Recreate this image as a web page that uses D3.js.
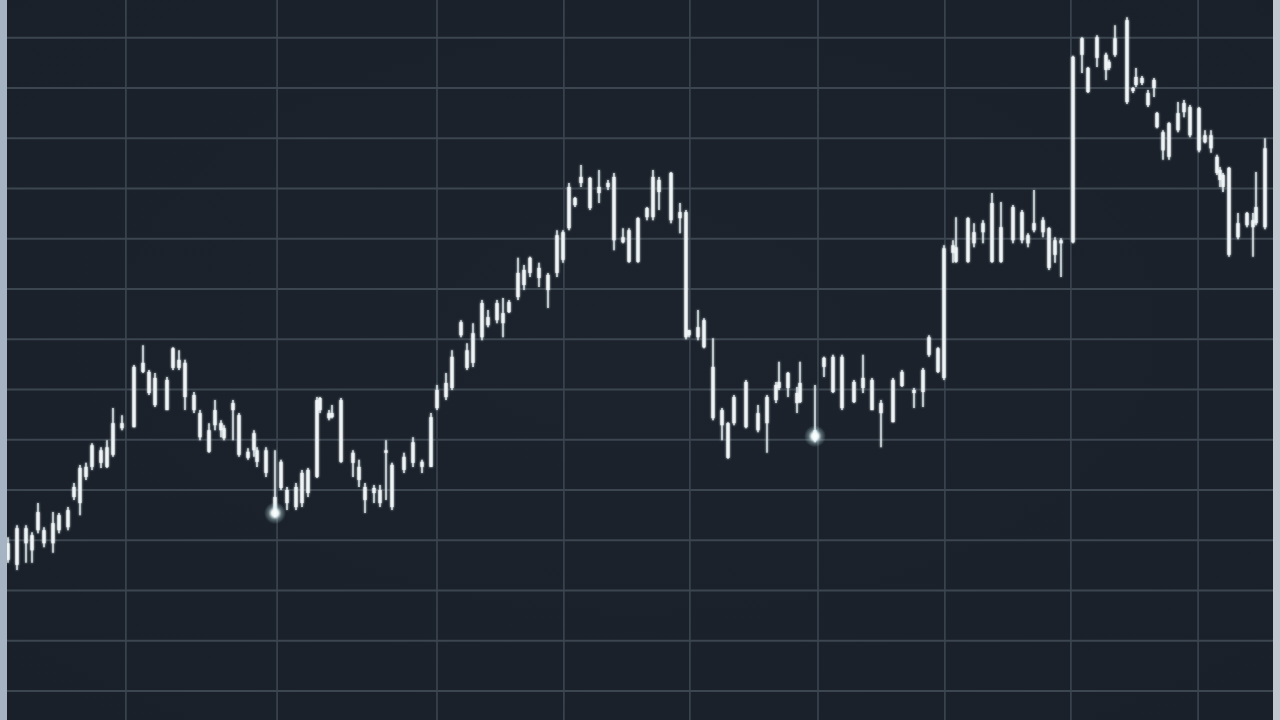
<!DOCTYPE html>
<html>
<head>
<meta charset="utf-8">
<script src="https://cdn.jsdelivr.net/npm/d3@7"></script>
<style>
html,body{margin:0;padding:0;background:#1b222b;overflow:hidden;}
svg{display:block;}
</style>
</head>
<body>
<svg id="chart" width="1280" height="720"></svg>
<script>
// ---- data ----
const bar = [0,3,6,8,10,12,15,17,20,22,24,26,28,31,33,35,38,42,45,47,49,53,55,57,59,62,64,67,69,71,72,75,77,80,82,83,86,89,91,93,96,98,100,103,104,107,108,111,115,117,119,122,124,126,128,132,135,138,141,143,146,148,151,153,155,158,160,163,165,167,170,172,174,177,180,183,185,187,189,191,194,197,200,202,205,207,210,213,215,217,221,224,226,227,230,232,235,238,240,242,246,250,253,256,257,260,263,264,269,272,275,278,282,285,288,291,295,298,302,305,307,310,312,315,316,320,322,325,328,331,335,338,340,342,345,347,349,351,355,358,360,363,366,367,369,373,375,376,378,380,382,383,385,387,390,392,394,397,399,401,403,404,405,407,410,413,415,416,419];
const open = [36.1,35.1,42.4,38.0,42.0,42.0,39.4,42.0,42.6,48.6,47.4,54.6,54.6,57.9,54.6,57.0,63.3,62.5,73.5,73.5,72.3,65.9,74.3,75.9,75.3,68.9,65.3,61.9,62.9,63.3,62.3,65.9,64.9,57.6,57.9,57.9,57.9,48.6,50.4,50.0,46.6,47.4,49.4,52.6,68.3,65.3,64.5,67.9,55.4,54.6,50.6,50.4,47.4,57.4,55.0,54.0,55.4,55.6,54.6,66.3,68.5,70.3,80.8,77.8,75.3,80.4,84.4,83.8,85.2,85.4,88.4,93.8,93.2,94.2,92.8,93.2,101.3,102.1,108.1,111.1,112.1,109.1,110.3,112.3,99.3,101.7,95.4,104.3,104.3,111.7,103.7,105.3,105.3,80.8,82.4,83.8,74.5,65.9,63.3,63.3,71.5,61.9,63.3,67.9,70.3,70.3,69.3,67.5,61.9,74.5,76.5,66.3,71.5,70.3,71.9,65.3,63.5,70.7,69.9,69.5,76.9,78.2,72.3,98.7,98.3,95.4,101.3,101.3,95.4,102.3,99.7,105.3,99.1,103.1,101.3,102.1,96.8,99.1,99.3,136.6,134.0,136.0,136.6,134.0,136.6,143.5,129.4,130.6,132.0,129.0,130.0,125.0,121.2,116.3,121.6,125.2,126.2,117.6,120.6,120.6,116.3,113.7,112.7,114.1,100.3,102.7,103.7,103.1,102.3];
const close = [39.4,42.4,39.4,41.0,45.6,39.4,43.4,45.0,46.0,50.6,54.4,52.6,58.9,55.4,58.5,63.3,62.3,74.5,75.3,69.3,66.9,71.9,78.2,74.3,68.5,65.9,60.5,57.6,65.9,61.9,60.3,67.3,57.0,56.4,61.3,55.6,53.4,46.0,55.6,47.4,50.6,53.4,54.0,67.9,65.9,64.3,65.3,55.6,57.4,52.0,48.0,49.4,50.0,57.9,46.6,56.6,59.5,54.6,64.5,69.9,71.3,76.5,83.4,74.3,81.2,87.2,82.8,87.2,83.2,87.4,93.2,90.8,96.2,92.2,89.8,100.7,95.8,110.3,106.7,112.3,106.1,110.3,111.1,99.7,100.3,95.4,104.1,106.1,112.3,109.3,113.1,104.1,80.4,81.8,80.4,78.4,64.3,62.9,56.4,68.5,62.5,65.3,68.5,70.9,71.5,73.3,67.3,71.3,59.9,76.3,69.5,76.5,67.5,72.3,65.9,67.3,71.9,73.5,69.3,73.9,80.4,73.5,98.1,97.2,95.4,104.1,99.1,103.1,107.1,95.4,106.3,99.7,100.7,101.7,103.7,94.2,99.7,99.7,136.2,139.9,129.2,140.1,133.6,135.2,139.9,127.2,130.0,132.2,131.0,126.6,131.6,122.2,117.6,123.0,125.0,127.0,120.6,126.0,119.2,118.0,113.1,111.7,110.3,96.8,103.1,105.1,102.3,106.3,118.0];
const high = [40.6,43.0,43.0,41.6,47.4,42.6,45.6,45.4,46.6,51.4,55.0,55.4,59.3,58.5,59.9,66.3,64.9,74.9,78.8,73.9,73.3,72.5,78.4,77.8,75.9,69.5,65.9,63.3,67.9,63.9,62.9,67.9,65.3,58.3,61.9,58.5,58.5,57.9,56.0,50.6,51.4,54.0,54.4,68.5,68.5,65.9,66.9,68.3,57.9,56.0,51.4,51.0,51.0,59.9,55.4,57.4,60.5,56.0,65.3,70.9,73.3,77.8,83.8,79.2,83.2,87.8,85.8,87.8,88.2,87.8,96.2,94.8,96.4,95.2,93.2,101.7,101.7,111.1,108.3,114.7,112.3,113.7,111.7,113.1,102.1,102.1,104.3,106.3,113.7,112.3,113.3,107.1,105.7,81.8,85.8,84.2,80.2,66.3,63.5,68.9,71.9,66.9,68.9,71.5,75.5,73.5,70.5,75.5,70.9,76.5,76.9,76.9,71.9,76.9,72.3,67.9,72.3,73.9,70.3,74.3,80.8,78.4,98.7,99.7,104.3,104.3,103.1,103.7,109.1,107.3,106.7,105.7,101.1,109.7,104.3,102.3,100.3,100.1,136.4,140.1,134.2,140.5,137.0,135.6,142.5,144.1,130.2,134.0,132.4,129.6,132.0,125.2,121.6,123.2,127.2,127.6,126.6,126.2,121.6,121.6,116.7,114.3,113.1,114.3,105.1,105.3,105.1,113.3,120.0];
const low = [35.5,34.1,35.5,35.5,41.4,38.6,37.5,41.4,42.0,48.0,45.0,52.0,54.0,54.4,54.4,56.6,61.9,62.5,73.3,68.9,66.5,65.9,73.9,73.9,65.9,65.3,59.9,57.4,61.9,60.5,59.9,59.9,56.6,56.0,56.6,54.6,52.6,44.6,50.0,46.0,46.0,46.6,48.6,52.4,65.3,63.9,64.3,55.4,52.6,50.6,45.4,47.4,46.6,48.0,46.0,53.4,54.6,53.4,54.6,65.9,67.9,69.9,80.4,73.9,74.5,79.8,82.4,83.2,80.4,85.2,87.8,89.8,92.4,90.4,86.2,92.4,95.2,101.7,106.3,110.3,105.7,107.1,109.7,97.7,99.1,95.2,95.2,103.7,103.7,105.7,103.1,101.1,80.0,80.4,79.8,78.2,63.9,59.9,56.2,62.9,62.3,61.5,57.4,67.3,69.9,68.5,65.3,67.3,59.5,72.5,69.3,65.9,67.3,69.3,65.9,58.5,63.5,70.5,66.3,66.5,76.5,73.3,71.9,95.2,95.2,95.2,98.3,99.1,95.2,95.2,99.1,99.1,98.3,101.3,100.3,93.8,95.2,92.4,99.1,133.0,129.0,134.2,131.6,133.6,136.2,126.8,129.0,130.2,130.6,126.2,128.2,122.0,115.7,115.7,121.2,124.2,120.2,117.2,119.0,117.1,112.7,110.3,109.3,96.4,99.9,102.3,96.4,102.7,101.9];
const priceTicks = [10,20,30,40,50,60,70,80,90,100,110,120,130,140];
const timeTicks = [39.3,89.7,143,185.3,227.3,270,312.3,354.3,396.7];
const glowBar = [89,269];
const glowPrice = [45.4,60.7];

// ---- drawing ----
const W = 1280, H = 720;
const svg = d3.select("#chart");
const x = d3.scaleLinear().domain([0,420]).range([8,1268]);
const y = d3.scaleLinear().domain([10,140]).range([691,37.75]);

const defs = svg.append("defs");
const bg = defs.append("radialGradient").attr("id","bgGrad").attr("cx","50%").attr("cy","45%").attr("r","75%");
bg.append("stop").attr("offset","0%").attr("stop-color","#1c232c");
bg.append("stop").attr("offset","100%").attr("stop-color","#192029");
const glow = defs.append("radialGradient").attr("id","glow");
glow.append("stop").attr("offset","0%").attr("stop-color","#ffffff").attr("stop-opacity",1);
glow.append("stop").attr("offset","30%").attr("stop-color","#f4fbfc").attr("stop-opacity",0.95);
glow.append("stop").attr("offset","60%").attr("stop-color","#cfeff2").attr("stop-opacity",0.35);
glow.append("stop").attr("offset","100%").attr("stop-color","#bfe6ea").attr("stop-opacity",0);
const soft = defs.append("filter").attr("id","soft").attr("x","-20%").attr("y","-20%").attr("width","140%").attr("height","140%");
soft.append("feGaussianBlur").attr("in","SourceGraphic").attr("stdDeviation",1.2).attr("result","b");
const fm = soft.append("feMerge");
fm.append("feMergeNode").attr("in","b");
fm.append("feMergeNode").attr("in","SourceGraphic");

svg.append("rect").attr("width",W).attr("height",H).attr("fill","url(#bgGrad)");

// grid
const grid = svg.append("g").attr("stroke","#3c4650");
grid.selectAll("line.h").data(priceTicks).join("line").attr("class","h")
  .attr("x1",7).attr("x2",1273)
  .attr("y1",d=>y(d)).attr("y2",d=>y(d)).attr("stroke-width",2);
grid.selectAll("line.v").data(timeTicks).join("line").attr("class","v")
  .attr("y1",0).attr("y2",H)
  .attr("x1",d=>x(d)).attr("x2",d=>x(d)).attr("stroke-width",1.6);

// candles
const idx = d3.range(bar.length);
const cg = svg.append("g").attr("filter","url(#soft)");
cg.selectAll("line.w").data(idx).join("line").attr("class","w")
  .attr("x1",i=>x(bar[i])).attr("x2",i=>x(bar[i]))
  .attr("y1",i=>y(high[i])).attr("y2",i=>y(low[i]))
  .attr("stroke","#dfe8ec").attr("stroke-width",1.4);
cg.selectAll("rect.b").data(idx).join("rect").attr("class","b")
  .attr("x",i=>x(bar[i])-1.6).attr("width",3.2)
  .attr("y",i=>y(Math.max(open[i],close[i])))
  .attr("height",i=>Math.max(1.5, Math.abs(y(open[i])-y(close[i]))))
  .attr("fill","#eef4f6");

// glow highlights
svg.selectAll("circle.g").data(glowBar).join("circle").attr("class","g")
  .attr("cx",(d)=>x(d)).attr("cy",(d,i)=>y(glowPrice[i]))
  .attr("r",11).attr("fill","url(#glow)");

// frame edges
svg.append("rect").attr("x",0).attr("y",0).attr("width",7).attr("height",H).attr("fill","#a6b3c3");
svg.append("rect").attr("x",1273).attr("y",0).attr("width",7).attr("height",H).attr("fill","#c0c7cf");
</script>
</body>
</html>
